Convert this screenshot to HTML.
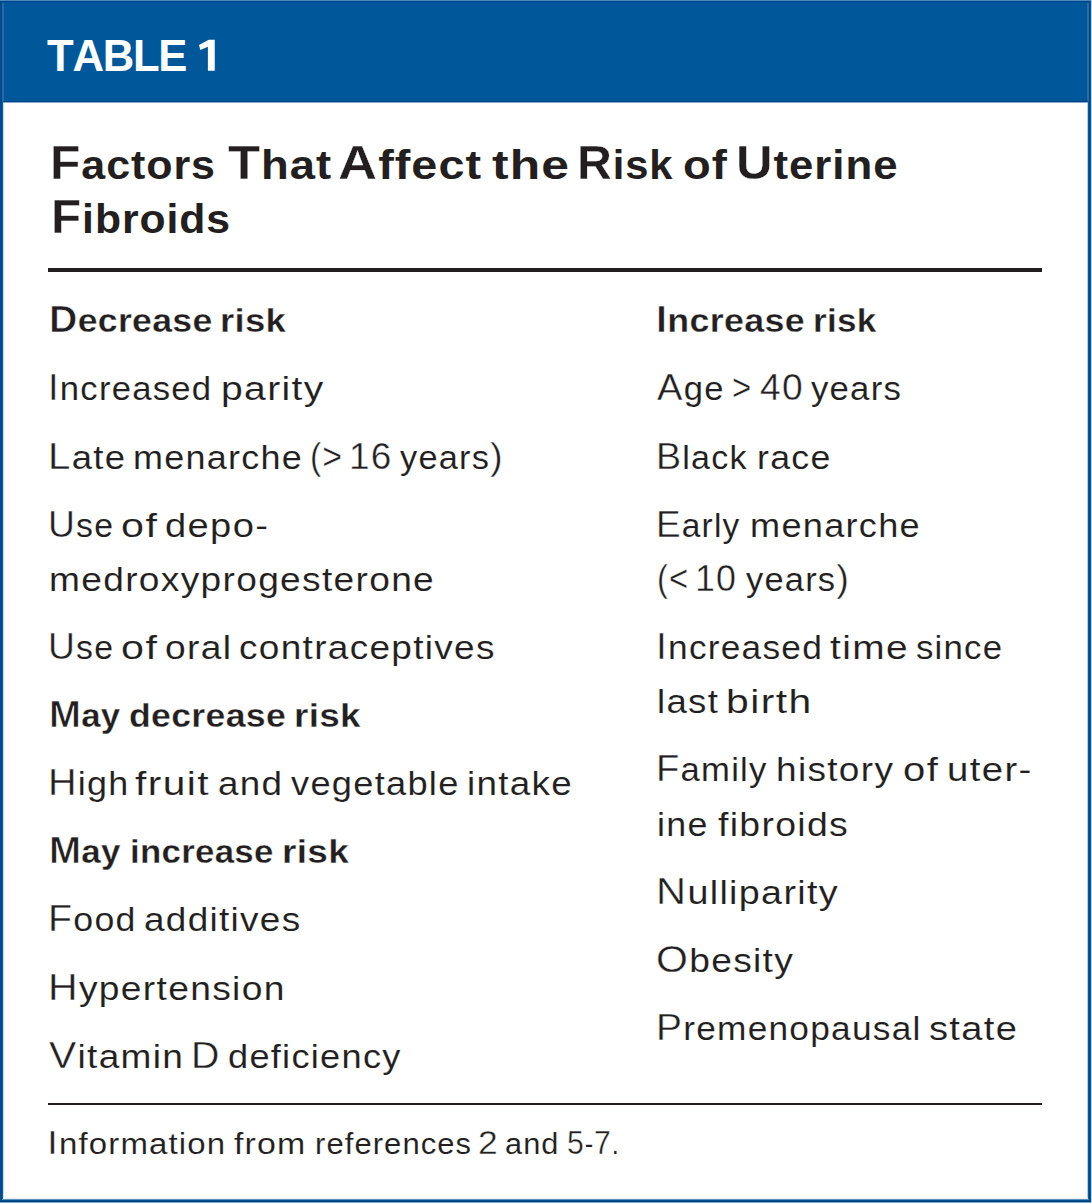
<!DOCTYPE html>
<html lang="en"><head><meta charset="utf-8"><title>Table 1</title>
<style>
html,body{margin:0;padding:0;background:#fff;}
body{width:1092px;height:1203px;position:relative;overflow:hidden;font-family:"Liberation Sans",sans-serif;}
.frame{position:absolute;left:0;top:0;width:1092px;height:1203px;}
.e{position:absolute;}
.hdr{left:0;top:0;width:1092px;height:101px;background:#00589b;}
.hd1{left:0;top:101px;width:1092px;height:1px;background:#003f88;}
.hd2{left:0;top:102px;width:1092px;height:1px;background:#80aecb;}
.hl{left:2px;top:3px;width:2px;height:98px;background:#2a69a9;}
.hr{left:1087px;top:3px;width:2px;height:98px;background:#2a6ca9;}
.t0{left:0;top:0;width:1092px;height:1px;background:#4a8ab8;}
.t1{left:0;top:1px;width:1092px;height:1px;background:#01418b;}
.l0{left:0;top:1px;width:2px;height:1202px;background:#004b8b;}
.l2{left:2px;top:101px;width:1px;height:1102px;background:#0d5f99;}
.l3{left:3px;top:103px;width:1px;height:1096px;background:#c9dced;}
.r7{left:1087px;top:103px;width:1px;height:1096px;background:#b5cfe3;}
.r8{left:1088px;top:101px;width:1px;height:1102px;background:#0e5a9c;}
.r9{left:1089px;top:1px;width:1px;height:1202px;background:#01438a;}
.r10{left:1090px;top:1px;width:1px;height:1202px;background:#035b96;}
.r11{left:1091px;top:0;width:1px;height:1203px;background:#bbcfe6;}
.b8{left:3px;top:1198px;width:1085px;height:1px;background:#eaf0f6;}
.b9{left:2px;top:1199px;width:1087px;height:1px;background:#5a93b8;}
.b10{left:0;top:1200px;width:1091px;height:1px;background:#07508f;}
.b11{left:0;top:1201px;width:1091px;height:1px;background:#003a80;}
.b12{left:0;top:1202px;width:1092px;height:1px;background:#80aed0;}
.rule1{position:absolute;left:48px;top:268px;width:994px;height:4px;background:#231f20;}
.rule2{position:absolute;left:48px;top:1103px;width:994px;height:2px;background:#231f20;}
.l{position:absolute;white-space:nowrap;line-height:1;margin:0;padding:0;font-weight:400;-webkit-text-stroke:0.1px #fff;}
.c{line-height:0;-webkit-text-stroke:0.4px #fff;}
.b{font-weight:700;-webkit-text-stroke:0.3px #fff;}
.b .c{-webkit-text-stroke:0.7px #fff;}
.tt{-webkit-text-stroke:0;}
.tt .c{-webkit-text-stroke:0.35px #fff;}
.h{-webkit-text-stroke:0;font-kerning:none;}
</style></head><body>
<div class="frame">
<div class="e hdr"></div><div class="e hd1"></div><div class="e hd2"></div><div class="e hl"></div><div class="e hr"></div><div class="e t0"></div><div class="e t1"></div><div class="e l0"></div><div class="e l2"></div><div class="e l3"></div><div class="e r7"></div><div class="e r8"></div><div class="e r9"></div><div class="e r10"></div><div class="e b8"></div><div class="e b9"></div><div class="e b10"></div><div class="e b11"></div><div class="e b12"></div><div class="e r11"></div>
<div class="rule1"></div><div class="rule2"></div>
<svg class="one" width="30" height="40" viewBox="190 35 30 40" style="position:absolute;left:190px;top:35px"><polygon fill="#fff" points="208.8,39.85 214.75,39.85 214.75,70.75 207.9,70.75 207.9,46.7 200.3,49.9 199,44.9"/></svg>
<div class="l b h" style="left:198px;top:32.9px;font-size:45px;color:transparent">1</div>
<div class="l b h" style="left:46.78px;top:32.91px;font-size:45px;letter-spacing:-1.293px;color:#ffffff;transform:scaleX(0.97);transform-origin:0 0;">TABLE</div>
<div class="l b tt" style="left:50.13px;top:143.87px;font-size:41.5px;letter-spacing:0.900px;color:#231f20;transform:scaleX(1.036);transform-origin:0 0;"><span class="c" style="font-size:48px">F</span>actors</div>
<div class="l b tt" style="left:228.30px;top:143.87px;font-size:41.5px;letter-spacing:0.900px;color:#231f20;transform:scaleX(1.095);transform-origin:0 0;"><span class="c" style="font-size:48px">T</span>hat</div>
<div class="l b tt" style="left:338.13px;top:143.87px;font-size:41.5px;letter-spacing:0.900px;color:#231f20;transform:scaleX(1.128);transform-origin:0 0;"><span class="c" style="font-size:48px">A</span>ffect</div>
<div class="l b tt" style="left:492.39px;top:143.87px;font-size:41.5px;letter-spacing:0.900px;color:#231f20;transform:scaleX(1.2);transform-origin:0 0;">the</div>
<div class="l b tt" style="left:576.51px;top:143.87px;font-size:41.5px;letter-spacing:0.900px;color:#231f20;transform:scaleX(1.005);transform-origin:0 0;"><span class="c" style="font-size:48px">R</span>isk</div>
<div class="l b tt" style="left:682.73px;top:143.87px;font-size:41.5px;letter-spacing:0.900px;color:#231f20;transform:scaleX(1.094);transform-origin:0 0;">of</div>
<div class="l b tt" style="left:736.48px;top:143.87px;font-size:41.5px;letter-spacing:0.900px;color:#231f20;transform:scaleX(1.055);transform-origin:0 0;"><span class="c" style="font-size:48px">U</span>terine</div>
<div class="l b tt" style="left:50.81px;top:197.87px;font-size:41.5px;letter-spacing:0.900px;color:#231f20;transform:scaleX(1.029);transform-origin:0 0;"><span class="c" style="font-size:48px">F</span>ibroids</div>
<div class="l b" style="left:48.65px;top:303.22px;font-size:34px;letter-spacing:0.300px;color:#231f20;transform:scaleX(1.047);transform-origin:0 0;"><span class="c" style="font-size:37.5px">D</span>ecrease</div>
<div class="l b" style="left:219.51px;top:303.22px;font-size:34px;letter-spacing:0.300px;color:#231f20;transform:scaleX(1.072);transform-origin:0 0;">risk</div>
<div class="l" style="left:47.81px;top:371.22px;font-size:34px;letter-spacing:1.200px;color:#231f20;transform:scaleX(1.02);transform-origin:0 0;"><span class="c" style="font-size:37.5px">I</span>ncreased</div>
<div class="l" style="left:220.95px;top:371.22px;font-size:34px;letter-spacing:1.200px;color:#231f20;transform:scaleX(1.148);transform-origin:0 0;">parity</div>
<div class="l" style="left:48.25px;top:440.22px;font-size:34px;letter-spacing:1.200px;color:#231f20;transform:scaleX(1.074);transform-origin:0 0;"><span class="c" style="font-size:37.5px">L</span>ate</div>
<div class="l" style="left:133.25px;top:440.22px;font-size:34px;letter-spacing:1.200px;color:#231f20;transform:scaleX(1.058);transform-origin:0 0;">menarche</div>
<div class="l" style="left:310.20px;top:440.22px;font-size:34px;letter-spacing:1.200px;color:#231f20;transform:scaleX(0.8992);transform-origin:0 0;"><span class="c" style="font-size:37.5px">(&gt;</span></div>
<div class="l" style="left:348.76px;top:440.22px;font-size:34px;letter-spacing:1.200px;color:#231f20;transform:scaleX(0.9851);transform-origin:0 0;"><span class="c" style="font-size:37.5px">16</span></div>
<div class="l" style="left:399.65px;top:440.22px;font-size:34px;letter-spacing:1.200px;color:#231f20;transform:scaleX(1.011);transform-origin:0 0;">years<span class="c" style="font-size:37.5px">)</span></div>
<div class="l" style="left:47.57px;top:508.22px;font-size:34px;letter-spacing:1.200px;color:#231f20;transform:scaleX(0.9939);transform-origin:0 0;"><span class="c" style="font-size:37.5px">U</span>se</div>
<div class="l" style="left:121.20px;top:508.22px;font-size:34px;letter-spacing:1.200px;color:#231f20;transform:scaleX(1.213);transform-origin:0 0;">of</div>
<div class="l" style="left:165.24px;top:508.22px;font-size:34px;letter-spacing:1.200px;color:#231f20;transform:scaleX(1.122);transform-origin:0 0;">depo-</div>
<div class="l" style="left:49.21px;top:562.22px;font-size:34px;letter-spacing:1.200px;color:#231f20;transform:scaleX(1.092);transform-origin:0 0;">medroxyprogesterone</div>
<div class="l" style="left:47.57px;top:630.22px;font-size:34px;letter-spacing:1.200px;color:#231f20;transform:scaleX(0.9939);transform-origin:0 0;"><span class="c" style="font-size:37.5px">U</span>se</div>
<div class="l" style="left:121.20px;top:630.22px;font-size:34px;letter-spacing:1.200px;color:#231f20;transform:scaleX(1.213);transform-origin:0 0;">of</div>
<div class="l" style="left:165.30px;top:630.22px;font-size:34px;letter-spacing:1.200px;color:#231f20;transform:scaleX(1.094);transform-origin:0 0;">oral</div>
<div class="l" style="left:239.13px;top:630.22px;font-size:34px;letter-spacing:1.200px;color:#231f20;transform:scaleX(1.088);transform-origin:0 0;">contraceptives</div>
<div class="l b" style="left:48.56px;top:698.22px;font-size:34px;letter-spacing:0.300px;color:#231f20;transform:scaleX(1.021);transform-origin:0 0;"><span class="c" style="font-size:37.5px">M</span>ay</div>
<div class="l b" style="left:129.22px;top:698.22px;font-size:34px;letter-spacing:0.300px;color:#231f20;transform:scaleX(1.048);transform-origin:0 0;">decrease</div>
<div class="l b" style="left:294.45px;top:698.22px;font-size:34px;letter-spacing:0.300px;color:#231f20;transform:scaleX(1.083);transform-origin:0 0;">risk</div>
<div class="l" style="left:48.45px;top:766.22px;font-size:34px;letter-spacing:1.200px;color:#231f20;transform:scaleX(1.055);transform-origin:0 0;"><span class="c" style="font-size:37.5px">H</span>igh</div>
<div class="l" style="left:135.44px;top:766.22px;font-size:34px;letter-spacing:1.200px;color:#231f20;transform:scaleX(1.196);transform-origin:0 0;">fruit</div>
<div class="l" style="left:217.83px;top:766.22px;font-size:34px;letter-spacing:1.200px;color:#231f20;transform:scaleX(1.082);transform-origin:0 0;">and</div>
<div class="l" style="left:291.06px;top:766.22px;font-size:34px;letter-spacing:1.200px;color:#231f20;transform:scaleX(1.065);transform-origin:0 0;">vegetable</div>
<div class="l" style="left:466.53px;top:766.22px;font-size:34px;letter-spacing:1.200px;color:#231f20;transform:scaleX(1.082);transform-origin:0 0;">intake</div>
<div class="l b" style="left:48.58px;top:834.22px;font-size:34px;letter-spacing:0.300px;color:#231f20;transform:scaleX(1.025);transform-origin:0 0;"><span class="c" style="font-size:37.5px">M</span>ay</div>
<div class="l b" style="left:130.11px;top:834.22px;font-size:34px;letter-spacing:0.300px;color:#231f20;transform:scaleX(1.023);transform-origin:0 0;">increase</div>
<div class="l b" style="left:282.28px;top:834.22px;font-size:34px;letter-spacing:0.300px;color:#231f20;transform:scaleX(1.086);transform-origin:0 0;">risk</div>
<div class="l" style="left:48.25px;top:902.22px;font-size:34px;letter-spacing:1.200px;color:#231f20;transform:scaleX(1.051);transform-origin:0 0;"><span class="c" style="font-size:37.5px">F</span>ood</div>
<div class="l" style="left:144.08px;top:902.22px;font-size:34px;letter-spacing:1.200px;color:#231f20;transform:scaleX(1.086);transform-origin:0 0;">additives</div>
<div class="l" style="left:47.68px;top:971.22px;font-size:34px;letter-spacing:1.200px;color:#231f20;transform:scaleX(1.094);transform-origin:0 0;"><span class="c" style="font-size:37.5px">H</span>ypertension</div>
<div class="l" style="left:48.50px;top:1039.22px;font-size:34px;letter-spacing:1.200px;color:#231f20;transform:scaleX(1.089);transform-origin:0 0;"><span class="c" style="font-size:37.5px">V</span>itamin</div>
<div class="l" style="left:191.03px;top:1039.22px;font-size:34px;letter-spacing:1.200px;color:#231f20;transform:scaleX(1.048);transform-origin:0 0;"><span class="c" style="font-size:37.5px">D</span></div>
<div class="l" style="left:228.34px;top:1039.22px;font-size:34px;letter-spacing:1.200px;color:#231f20;transform:scaleX(1.064);transform-origin:0 0;">deficiency</div>
<div class="l b" style="left:656.42px;top:303.22px;font-size:34px;letter-spacing:0.300px;color:#231f20;transform:scaleX(1.053);transform-origin:0 0;"><span class="c" style="font-size:37.5px">I</span>ncrease</div>
<div class="l b" style="left:813.36px;top:303.22px;font-size:34px;letter-spacing:0.300px;color:#231f20;transform:scaleX(1.03);transform-origin:0 0;">risk</div>
<div class="l" style="left:657.25px;top:371.22px;font-size:34px;letter-spacing:1.200px;color:#231f20;transform:scaleX(1.018);transform-origin:0 0;"><span class="c" style="font-size:37.5px">A</span>ge</div>
<div class="l" style="left:732.36px;top:371.22px;font-size:34px;letter-spacing:1.200px;color:#231f20;transform:scaleX(0.8762);transform-origin:0 0;"><span class="c" style="font-size:37.5px">&gt;</span></div>
<div class="l" style="left:759.55px;top:371.22px;font-size:34px;letter-spacing:1.200px;color:#231f20;transform:scaleX(0.9923);transform-origin:0 0;"><span class="c" style="font-size:37.5px">40</span></div>
<div class="l" style="left:810.99px;top:371.22px;font-size:34px;letter-spacing:1.200px;color:#231f20;transform:scaleX(1.021);transform-origin:0 0;">years</div>
<div class="l" style="left:656.25px;top:440.22px;font-size:34px;letter-spacing:1.200px;color:#231f20;transform:scaleX(1.003);transform-origin:0 0;"><span class="c" style="font-size:37.5px">B</span>lack</div>
<div class="l" style="left:756.71px;top:440.22px;font-size:34px;letter-spacing:1.200px;color:#231f20;transform:scaleX(1.052);transform-origin:0 0;">race</div>
<div class="l" style="left:656.25px;top:508.22px;font-size:34px;letter-spacing:1.200px;color:#231f20;transform:scaleX(0.9846);transform-origin:0 0;"><span class="c" style="font-size:37.5px">E</span>arly</div>
<div class="l" style="left:750.01px;top:508.22px;font-size:34px;letter-spacing:1.200px;color:#231f20;transform:scaleX(1.063);transform-origin:0 0;">menarche</div>
<div class="l" style="left:656.63px;top:562.22px;font-size:34px;letter-spacing:1.200px;color:#231f20;transform:scaleX(0.876);transform-origin:0 0;"><span class="c" style="font-size:37.5px">(&lt;</span></div>
<div class="l" style="left:695.46px;top:562.22px;font-size:34px;letter-spacing:1.200px;color:#231f20;transform:scaleX(0.9549);transform-origin:0 0;"><span class="c" style="font-size:37.5px">10</span></div>
<div class="l" style="left:746.14px;top:562.22px;font-size:34px;letter-spacing:1.200px;color:#231f20;transform:scaleX(1.013);transform-origin:0 0;">years<span class="c" style="font-size:37.5px">)</span></div>
<div class="l" style="left:655.79px;top:630.22px;font-size:34px;letter-spacing:1.200px;color:#231f20;transform:scaleX(1.037);transform-origin:0 0;"><span class="c" style="font-size:37.5px">I</span>ncreased</div>
<div class="l" style="left:830.10px;top:630.22px;font-size:34px;letter-spacing:1.200px;color:#231f20;transform:scaleX(1.143);transform-origin:0 0;">time</div>
<div class="l" style="left:915.59px;top:630.22px;font-size:34px;letter-spacing:1.200px;color:#231f20;transform:scaleX(1.022);transform-origin:0 0;">since</div>
<div class="l" style="left:657.04px;top:684.22px;font-size:34px;letter-spacing:1.200px;color:#231f20;transform:scaleX(1.077);transform-origin:0 0;">last</div>
<div class="l" style="left:725.75px;top:684.22px;font-size:34px;letter-spacing:1.200px;color:#231f20;transform:scaleX(1.201);transform-origin:0 0;">birth</div>
<div class="l" style="left:656.25px;top:752.22px;font-size:34px;letter-spacing:1.200px;color:#231f20;transform:scaleX(1.019);transform-origin:0 0;"><span class="c" style="font-size:37.5px">F</span>amily</div>
<div class="l" style="left:775.80px;top:752.22px;font-size:34px;letter-spacing:1.200px;color:#231f20;transform:scaleX(1.089);transform-origin:0 0;">history</div>
<div class="l" style="left:903.22px;top:752.22px;font-size:34px;letter-spacing:1.200px;color:#231f20;transform:scaleX(1.178);transform-origin:0 0;">of</div>
<div class="l" style="left:947.26px;top:752.22px;font-size:34px;letter-spacing:1.200px;color:#231f20;transform:scaleX(1.128);transform-origin:0 0;">uter-</div>
<div class="l" style="left:657.01px;top:807.22px;font-size:34px;letter-spacing:1.200px;color:#231f20;transform:scaleX(1.054);transform-origin:0 0;">ine</div>
<div class="l" style="left:717.56px;top:807.22px;font-size:34px;letter-spacing:1.200px;color:#231f20;transform:scaleX(1.1);transform-origin:0 0;">fibroids</div>
<div class="l" style="left:656.13px;top:875.22px;font-size:34px;letter-spacing:1.200px;color:#231f20;transform:scaleX(1.109);transform-origin:0 0;"><span class="c" style="font-size:37.5px">N</span>ulliparity</div>
<div class="l" style="left:655.64px;top:943.22px;font-size:34px;letter-spacing:1.200px;color:#231f20;transform:scaleX(1.093);transform-origin:0 0;"><span class="c" style="font-size:37.5px">O</span>besity</div>
<div class="l" style="left:656.25px;top:1011.22px;font-size:34px;letter-spacing:1.200px;color:#231f20;transform:scaleX(1.037);transform-origin:0 0;"><span class="c" style="font-size:37.5px">P</span>remenopausal</div>
<div class="l" style="left:929.40px;top:1011.22px;font-size:34px;letter-spacing:1.200px;color:#231f20;transform:scaleX(1.119);transform-origin:0 0;">state</div>
<div class="l" style="left:47.45px;top:1129.71px;font-size:28.7px;letter-spacing:1.000px;color:#231f20;transform:scaleX(1.149);transform-origin:0 0;"><span class="c" style="font-size:34px">I</span>nformation</div>
<div class="l" style="left:234.26px;top:1129.71px;font-size:28.7px;letter-spacing:1.000px;color:#231f20;transform:scaleX(1.181);transform-origin:0 0;">from</div>
<div class="l" style="left:314.73px;top:1129.71px;font-size:28.7px;letter-spacing:1.000px;color:#231f20;transform:scaleX(1.08);transform-origin:0 0;">references</div>
<div class="l" style="left:478.44px;top:1129.71px;font-size:28.7px;letter-spacing:1.000px;color:#231f20;transform:scaleX(1.042);transform-origin:0 0;"><span class="c" style="font-size:34px">2</span></div>
<div class="l" style="left:505.40px;top:1129.71px;font-size:28.7px;letter-spacing:1.000px;color:#231f20;transform:scaleX(1.071);transform-origin:0 0;">and</div>
<div class="l" style="left:566.95px;top:1129.71px;font-size:28.7px;letter-spacing:1.000px;color:#231f20;transform:scaleX(0.886);transform-origin:0 0;"><span class="c" style="font-size:34px">5</span>-<span class="c" style="font-size:34px">7</span>.</div>
</div></body></html>
